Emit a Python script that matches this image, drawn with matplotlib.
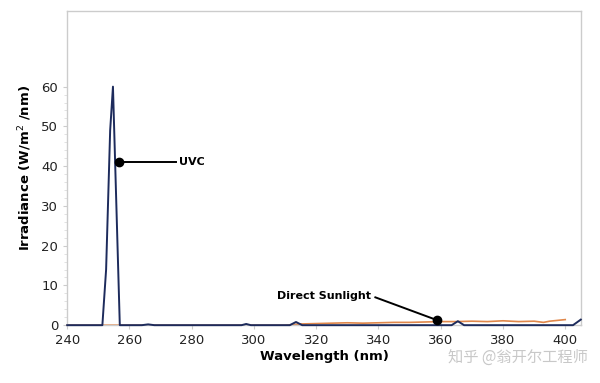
import matplotlib.pyplot as plt
from matplotlib.ticker import FixedLocator

#%% data
uvc_nm = [240, 251.3, 252.5, 253.8, 254.7, 256.9, 264, 266, 268, 296, 297.5, 299,
          311.5, 313.5, 315.5, 363.5, 365.5, 367.5, 402.5, 405]
uvc_irr = [0, 0, 14, 49, 60, 0, 0, 0.2, 0, 0, 0.3, 0,
           0, 0.8, 0, 0, 1.0, 0, 0, 1.4]

sun_nm = [240, 310, 315, 320, 325, 330, 335, 340, 345, 350, 355, 360, 365,
          370, 375, 380, 385, 390, 393, 395, 400]
sun_irr = [0, 0, 0.3, 0.4, 0.5, 0.6, 0.5, 0.6, 0.7, 0.7, 0.8, 0.9, 0.9,
           1.0, 0.9, 1.1, 0.9, 1.0, 0.7, 1.0, 1.4]

x_ticks = [240, 260, 280, 300, 320, 340, 360, 380, 400]
y_ticks = [0, 10, 20, 30, 40, 50, 60]
y_minor = list(range(0, 61, 2))

#%% plot
fig = plt.figure(figsize=(6, 3.83), dpi=100)
ax = fig.add_axes([0.112, 0.151, 0.856, 0.820])

ax.plot(sun_nm, sun_irr, color='#e0874a', lw=1.2, clip_on=False, zorder=2)
ax.plot(uvc_nm, uvc_irr, color='#1d2b5c', lw=1.4, clip_on=False, zorder=3)

ax.set_xlim(240, 405)
ax.set_ylim(0, 79)
ax.set_xticks(x_ticks)
ax.set_yticks(y_ticks)
ax.yaxis.set_minor_locator(FixedLocator(y_minor))

for s in ['left', 'top', 'right', 'bottom']:
    ax.spines[s].set_color('#cccccc')
    ax.spines[s].set_linewidth(1)
ax.tick_params(axis='both', colors='#cccccc', labelcolor='#222222',
               labelsize=9.5, length=3, width=0.8)
ax.tick_params(axis='y', which='minor', colors='#dddddd', length=2, width=0.6)

ax.set_xlabel('Wavelength (nm)', fontsize=9.5, fontweight='bold', labelpad=2)
ax.set_ylabel('Irradiance (W/m$^{2}$ /nm)', fontsize=9.5, fontweight='bold', labelpad=5)

# annotations
ax.plot([256.6], [41], 'o', color='black', ms=6, zorder=4, clip_on=False)
ax.plot([256.6, 274.8], [41, 41], color='black', lw=1.4, zorder=4)
ax.text(276.0, 41, 'UVC', fontsize=8, fontweight='bold', va='center', ha='left')

ax.plot([358.7], [1.3], 'o', color='black', ms=6, zorder=4, clip_on=False)
ax.plot([358.7, 339.0], [1.3, 7.0], color='black', lw=1.4, zorder=4)
ax.text(337.6, 7.3, 'Direct Sunlight', fontsize=8, fontweight='bold',
        va='center', ha='right')

fig.text(0.98, 0.068, '知乎 @翁开尔工程师', fontsize=11, color='#c8c8c8',
         ha='right', va='center', family=['Noto Sans CJK SC', 'DejaVu Sans'])

fig.savefig('out.png', dpi=100)
